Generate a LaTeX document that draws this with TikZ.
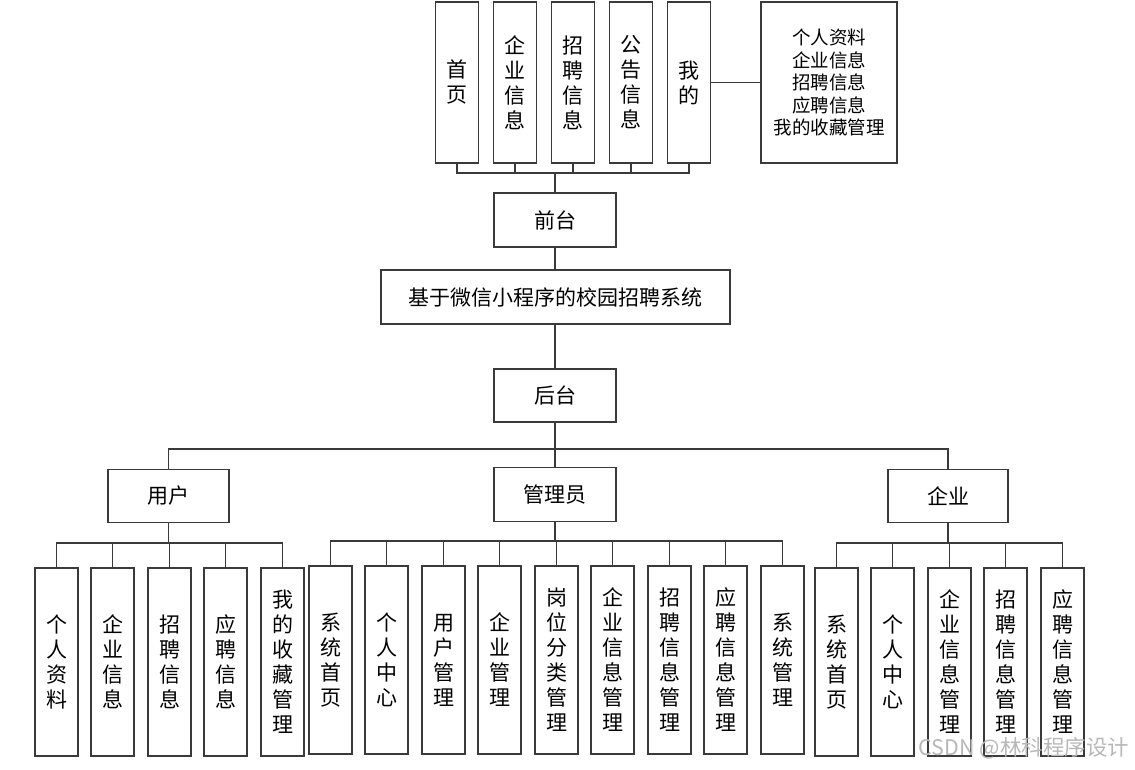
\documentclass[tikz,border=0pt]{standalone}
\usepackage{fontspec}
\newfontfamily\cjk{Noto Sans CJK SC}
\definecolor{ln}{HTML}{3A3A3A}
\tikzset{
  box/.style={draw=ln,line width=1.2pt,inner sep=0pt,align=center,font=\cjk\fontsize{21}{25}\selectfont},
  vbox/.style={box,minimum width=43pt},
  topv/.style={vbox,minimum height=161pt},
  botv/.style={vbox,minimum height=188pt},
  hbox/.style={box,minimum width=122pt,minimum height=54pt},
  conn/.style={draw=ln,line width=1.2pt}
}
\begin{document}
\begin{tikzpicture}[x=1pt,y=-1pt]
\useasboundingbox[fill=white] (0,0) rectangle (1135,769);
% top row
\node[topv] (shouye) at (457,82.5) {首\\页};
\node[topv] (qyxx) at (515,82.5) {企\\业\\信\\息};
\node[topv] (zpxx) at (573,82.5) {招\\聘\\信\\息};
\node[topv] (ggxx) at (631,82.5) {公\\告\\信\\息};
\node[topv] (wode) at (689,82.5) {我\\的};
\node[box,minimum width=136pt,minimum height=161pt,font=\cjk\fontsize{18.5}{22.5}\selectfont] (wdlist) at (829,82.5) {个人资料\\企业信息\\招聘信息\\应聘信息\\我的收藏管理};
% middle
\node[hbox] (qiantai) at (555,220) {前台};
\node[box,minimum width=349pt,minimum height=54pt] (main) at (555.5,297) {基于微信小程序的校园招聘系统};
\node[hbox,minimum height=53pt] (houtai) at (555,395.5) {后台};
\node[hbox,minimum width=121pt,minimum height=53pt] (yonghu) at (168.5,496) {用户};
\node[hbox] (gly) at (555,494.5) {管理员};
\node[hbox,minimum width=120pt,minimum height=53pt] (qiye) at (948,496) {企业};
% bottom: user
\node[botv] (u1) at (56.5,662) {个\\人\\资\\料};
\node[botv] (u2) at (112.5,662) {企\\业\\信\\息};
\node[botv] (u3) at (169.5,662) {招\\聘\\信\\息};
\node[botv] (u4) at (225.5,662) {应\\聘\\信\\息};
\node[botv] (u5) at (282.5,662) {我\\的\\收\\藏\\管\\理};
% admin
\node[botv] (a1) at (330.5,660) {系\\统\\首\\页};
\node[botv] (a2) at (386.5,660) {个\\人\\中\\心};
\node[botv] (a3) at (443.5,660) {用\\户\\管\\理};
\node[botv] (a4) at (499.5,660) {企\\业\\管\\理};
\node[botv] (a5) at (556.5,660) {岗\\位\\分\\类\\管\\理};
\node[botv] (a6) at (612.5,660) {企\\业\\信\\息\\管\\理};
\node[botv] (a7) at (669.5,660) {招\\聘\\信\\息\\管\\理};
\node[botv] (a8) at (725.5,660) {应\\聘\\信\\息\\管\\理};
\node[botv] (a9) at (782.5,660) {系\\统\\管\\理};
% enterprise
\node[botv] (e1) at (836.5,662) {系\\统\\首\\页};
\node[botv] (e2) at (892.5,662) {个\\人\\中\\心};
\node[botv] (e3) at (949.5,662) {企\\业\\信\\息\\管\\理};
\node[botv] (e4) at (1005.5,662) {招\\聘\\信\\息\\管\\理};
\node[botv] (e5) at (1062.5,662) {应\\聘\\信\\息\\管\\理};
% bus coordinates
\coordinate (tbus) at (0,173);
\coordinate (mbus) at (0,449);
\coordinate (ubus) at (0,543);
\coordinate (abus) at (0,541);
\coordinate (ebus) at (0,543);
% top connections
\draw[conn] (shouye.south) -- (shouye.south |- tbus) -- (wode.south |- tbus) -- (wode.south);
\foreach \n in {qyxx,zpxx,ggxx} \draw[conn] (\n.south) -- (\n.south |- tbus);
\draw[conn] (qiantai.north) -- (qiantai.north |- tbus);
\draw[conn] (wode.east) -- (wdlist.west);
\draw[conn] (qiantai.south) -- (main.north -| qiantai.south);
\draw[conn] (main.south -| houtai.north) -- (houtai.north);
\draw[conn] (houtai.south) -- (gly.north);
\draw[conn] (yonghu.north) -- (yonghu.north |- mbus) -- (qiye.north |- mbus) -- (qiye.north);
% user children
\draw[conn] (yonghu.south) -- (yonghu.south |- ubus);
\draw[conn] (u1.north) -- (u1.north |- ubus) -- (u5.north |- ubus) -- (u5.north);
\foreach \n in {u2,u3,u4} \draw[conn] (\n.north) -- (\n.north |- ubus);
% admin children
\draw[conn] (gly.south) -- (gly.south |- abus);
\draw[conn] (a1.north) -- (a1.north |- abus) -- (a9.north |- abus) -- (a9.north);
\foreach \n in {a2,a3,a4,a5,a6,a7,a8} \draw[conn] (\n.north) -- (\n.north |- abus);
% enterprise children
\draw[conn] (qiye.south) -- (qiye.south |- ebus);
\draw[conn] (e1.north) -- (e1.north |- ebus) -- (e5.north |- ebus) -- (e5.north);
\foreach \n in {e2,e3,e4} \draw[conn] (\n.north) -- (\n.north |- ebus);
% watermark
\node[text=black!28,font=\cjk\fontsize{21.5}{24}\selectfont,inner sep=0pt] (wm) at (1024,748) {CSDN @林科程序设计};
\end{tikzpicture}
\end{document}
